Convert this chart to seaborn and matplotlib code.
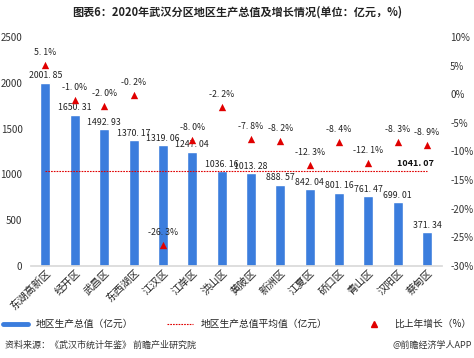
import numpy as np
import pandas as pd
import matplotlib
matplotlib.use("Agg")
import matplotlib.pyplot as plt
from matplotlib.lines import Line2D
import seaborn as sns

# Data
districts = ["东湖高新区", "经开区", "武昌区", "东西湖区", "江汉区", "江岸区", "洪山区",
             "黄陂区", "新洲区", "江夏区", "硚口区", "青山区", "汉阳区", "蔡甸区"]
gdp = [2001.85, 1650.31, 1492.93, 1370.17, 1319.06, 1247.04, 1036.16,
       1013.28, 888.57, 842.04, 801.16, 761.47, 699.01, 371.34]
growth = [5.1, -1.0, -2.0, -0.2, -26.3, -8.0, -2.2,
          -7.8, -8.2, -12.3, -8.4, -12.1, -8.3, -8.9]
gdp_avg = 1041.07

BLUE = "#3b7ddd"
RED = "#e00000"

sns.set_theme(style="white")
plt.rcParams["font.family"] = ["Noto Sans CJK SC", "DejaVu Sans"]
plt.rcParams["axes.unicode_minus"] = False

df = pd.DataFrame({"district": districts, "gdp": gdp, "growth": growth})

fig = plt.figure(figsize=(4.74, 3.58), dpi=100)
ax = fig.add_axes([0.065, 0.257, 0.867, 0.64])

sns.barplot(data=df, x="district", y="gdp", color=BLUE, width=0.34,
            saturation=1, ax=ax)
ax.set_ylim(0, 2500)
ax.set_yticks(range(0, 2501, 500))
ax.set_xlim(-0.5, len(districts) - 0.5)
ax.set_xlabel("")
ax.set_ylabel("")
ax.tick_params(axis="y", length=0, labelsize=7, colors="#333333", pad=6)
ax.tick_params(axis="x", length=0, labelsize=7.5, colors="#222222", pad=1)
plt.setp(ax.get_xticklabels(), rotation=45, ha="right", rotation_mode="anchor")
for s in ["top", "right", "left"]:
    ax.spines[s].set_visible(False)
ax.spines["bottom"].set_color("#d9d9d9")


def spaced(s):
    return s.replace(".", ". ")


for i, v in enumerate(gdp):
    ax.text(i, v + 25, spaced(f"{v:.2f}"), ha="center", va="bottom",
            fontsize=6.3, color="#222222")

# average line, from first to last bar
ax.hlines(gdp_avg, 0, len(districts) - 1, color=RED, lw=0.8, ls=(0, (1.5, 1)))
ax.text(12.6, gdp_avg + 25, "1041. 07", ha="center", va="bottom",
        fontsize=6.5, fontweight="bold", color="#111111")

# growth on right axis
ax2 = ax.twinx()
sns.scatterplot(x=np.arange(len(districts)), y=growth, marker="^", s=28,
                color=RED, edgecolor=RED, linewidth=0, ax=ax2, legend=False)
ax2.set_ylim(-30, 10)
ax2.set_yticks(range(-30, 11, 5))
ax2.set_yticklabels([f"{t}%" for t in range(-30, 11, 5)])
ax2.tick_params(axis="y", length=0, labelsize=7, colors="#333333", pad=6)
for s in ["top", "right", "left", "bottom"]:
    ax2.spines[s].set_visible(False)
for i, g in enumerate(growth):
    ax2.text(i, g + 1.4, spaced(f"{g:.1f}%"), ha="center", va="bottom",
             fontsize=6.3, color="#222222")

fig.suptitle("图表6：2020年武汉分区地区生产总值及增长情况(单位：亿元，%)",
             x=0.5, y=0.985, fontsize=8, fontweight="bold", color="#222222")

handles = [
    Line2D([], [], color=BLUE, lw=3.5),
    Line2D([], [], color=RED, lw=0.8, ls=(0, (1.5, 1))),
    Line2D([], [], color=RED, marker="^", ls="none", markersize=4),
]
labels = ["地区生产总值（亿元）", "地区生产总值平均值（亿元）", "比上年增长（%）"]
fig.legend(handles, labels, loc="center", bbox_to_anchor=(0.5, 0.095), ncol=3,
           frameon=False, fontsize=7, handlelength=2.6, columnspacing=3.5)

fig.text(0.01, 0.035, "资料来源：《武汉市统计年鉴》 前瞻产业研究院", fontsize=6.5,
         color="#333333", va="center")
fig.text(0.995, 0.035, "@前瞻经济学人APP", fontsize=6.5, color="#333333",
         va="center", ha="right")

fig.savefig("out.png", dpi=100)
